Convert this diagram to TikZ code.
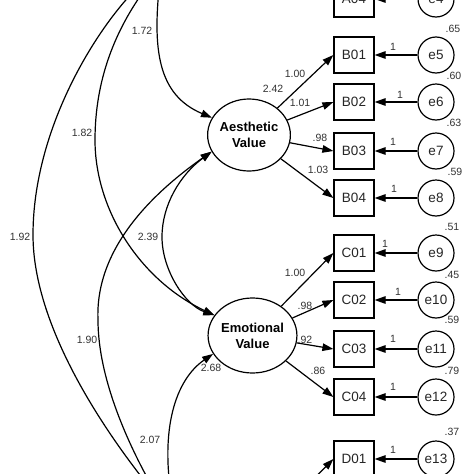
\documentclass[tikz,border=0pt]{standalone}
\usepackage{fontspec}
\setmainfont{Liberation Sans}
\usetikzlibrary{arrows.meta,shapes.geometric}
\tikzset{
  lat/.style={ellipse,draw,line width=1.2pt,inner sep=0pt,minimum width=82pt,minimum height=72pt,align=center,font=\bfseries\fontsize{13}{16}\selectfont},
  obs/.style={rectangle,draw,line width=1.2pt,minimum width=40pt,minimum height=36pt,inner sep=0pt,font=\fontsize{13.5}{15}\selectfont,text=black!85},
  err/.style={circle,draw,line width=1.2pt,minimum size=36pt,inner sep=0pt,font=\fontsize{13.5}{15}\selectfont,text=black!85},
  num/.style={inner sep=0pt,font=\fontsize{10.5}{12}\selectfont,text=black!80},
  arr/.style={line width=1.2pt,-{Triangle[length=11pt,width=7.5pt]}},
  darr/.style={line width=1.2pt,{Triangle[length=11pt,width=7.5pt]}-{Triangle[length=11pt,width=7.5pt]}},
}
\begin{document}
\begin{tikzpicture}[x=1pt,y=-1pt]
\useasboundingbox (0,0) rectangle (474,474);
\fill[white] (0,0) rectangle (474,474);
\clip (0,0) rectangle (474,474);

% latent factors
\node[lat] (aes) at (249,135) {Aesthetic\\Value};
\node[lat,minimum width=81pt,minimum height=75pt] (emo) at (252.5,335.5) {Emotional\\Value};
\coordinate (Afac) at (249,-63);
\coordinate (Dfac) at (252,541);

% observed
\foreach \n/\y in {A04/-1,B01/55,B02/102,B03/151,B04/198,C01/253,C02/300,C03/349,C04/397,D01/459}{
  \node[obs] (\n) at (354,\y) {\n};
}
% errors
\foreach \e/\b in {e4/A04,e5/B01,e6/B02,e7/B03,e8/B04,e9/C01,e10/C02,e11/C03,e12/C04,e13/D01}{
  \node[err] (\e) at (436,0 |- \b) {\e};
  \draw[arr] (\e) -- (\b);
}

% error variances
\node[num] (v5) at (453,29) {.65};
\node[num] (v6) at (454,76) {.60};
\node[num] (v7) at (454,123) {.63};
\node[num] (v8) at (455,172) {.59};
\node[num] (v9) at (452,227) {.51};
\node[num] (v10) at (452,275) {.45};
\node[num] (v11) at (452,320) {.59};
\node[num] (v12) at (452,371) {.79};
\node[num] (v13) at (452,432) {.37};

% fixed paths "1"
\node[num] (o5) at (393,47) {1};
\node[num] (o6) at (400,95) {1};
\node[num] (o7) at (393,142) {1};
\node[num] (o8) at (394,189) {1};
\node[num] (o9) at (385,244) {1};
\node[num] (o10) at (398,292) {1};
\node[num] (o11) at (393,339) {1};
\node[num] (o12) at (393,387) {1};
\node[num] (o13) at (393,450) {1};

% loadings
\foreach \b in {B01,B02,B03,B04}{\draw[arr] (aes) -- (\b.west);}
\foreach \c in {C01,C02,C03,C04}{\draw[arr] (emo) -- (\c.west);}
\draw[arr] (Afac) -- (A04.west);
\draw[arr] (Dfac) -- (D01.west);

\node[num] (lb1) at (295,74) {1.00};
\node[num] (lb2) at (300,103) {1.01};
\node[num] (lb3) at (320,138) {.98};
\node[num] (lb4) at (318,170) {1.03};
\node[num] (lc1) at (295,273) {1.00};
\node[num] (lc2) at (305,306) {.98};
\node[num] (lc3) at (305,340) {.92};
\node[num] (lc4) at (318,371) {.86};

% factor variances
\node[num] (vaes) at (273,89) {2.42};
\node[num] (vemo) at (211,368) {2.68};

% covariances
\coordinate (Atop1) at (137,-12);
\coordinate (Atop2) at (146,-12);
\coordinate (Atop3) at (160,-20);
\coordinate (Dbot1) at (160,500);
\coordinate (Dbot2) at (160,500);
\coordinate (Dbot3) at (172,500);

\draw[line width=1.2pt] (Atop1) .. controls (95,30) and (33,130) .. (33,235) .. controls (33,330) and (110,440) .. (Dbot1);
\draw[arr] (Atop2) .. controls (115,30) and (95,80) .. (95,140) .. controls (95,210) and (140,280) .. (emo.152);
\draw[arr] (Dbot2) .. controls (130,450) and (98,380) .. (98,320) .. controls (95,250) and (150,195) .. (aes.204);
\draw[arr] (Atop3) .. controls (152,50) and (158,95) .. (aes.155);
\draw[darr] (aes.204) .. controls (180,175) and (162,205) .. (162,237) .. controls (162,270) and (185,305) .. (emo.152);
\draw[arr] (Dbot3) .. controls (160,430) and (175,380) .. (emo.205);

\node[num] (k172) at (142,31) {1.72};
\node[num] (k182) at (82,133) {1.82};
\node[num] (k192) at (20,237) {1.92};
\node[num] (k239) at (148,237) {2.39};
\node[num] (k190) at (87,340) {1.90};
\node[num] (k207) at (150,440) {2.07};
\end{tikzpicture}
\end{document}
